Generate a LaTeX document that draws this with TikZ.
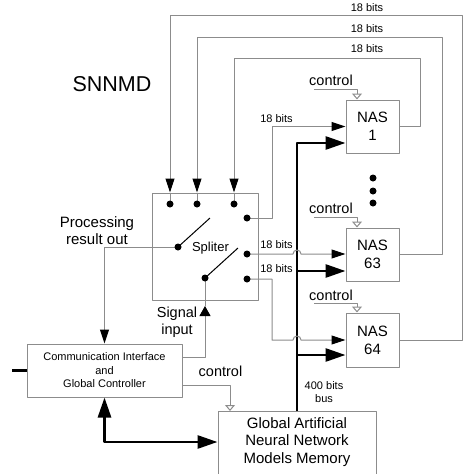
\documentclass[tikz,border=0pt]{standalone}
\usepackage{fontspec}
\setmainfont{Liberation Sans}
\usetikzlibrary{arrows.meta}
\begin{document}
\begin{tikzpicture}[x=1pt, y=-1pt, line join=round,
 box/.style={draw=black!45, line width=1pt},
 wire/.style={draw=black!45, line width=1pt},
 bus/.style={draw=black, line width=2.8pt},
 tip/.style={-{Triangle[length=14pt,width=9pt,color=black]}},
 bigtip/.style={-{Triangle[length=20pt,width=13pt]}},
 ctrl/.style={wire, -{Triangle[open,length=6pt,width=10pt]}},
 small/.style={font=\fontsize{11}{13.5}\selectfont, align=center},
 big/.style={font=\fontsize{15}{18}\selectfont, align=center},
 mid/.style={font=\fontsize{14.5}{17}\selectfont, align=center}]
 \useasboundingbox (0,0) rectangle (474,474);

 % blocks
 \node[box, minimum width=106pt, minimum height=107pt] (spl) at (205,246.5) {};
 \node[box, big, minimum width=53pt, minimum height=53pt] (nas1) at (372.5,126.5) {NAS\\1};
 \node[box, big, minimum width=53pt, minimum height=53pt] (nas63) at (372.5,254.5) {NAS\\63};
 \node[box, big, minimum width=53pt, minimum height=54pt] (nas64) at (372.5,340) {NAS\\64};
 \node[box, small, minimum width=155pt, minimum height=53pt] (comm) at (104.5,370.5) {Communication Interface\\and\\Global Controller};
 \node[box, minimum width=158pt, minimum height=80pt, anchor=north] (mem) at (297,411) {};
 \node[big, font=\fontsize{15}{17.5}\selectfont] (memtxt) at (297,442) {Global Artificial\\Neural Network\\Models Memory};
 \node[font=\fontsize{21.5}{24}\selectfont] (title) at (112,84.5) {SNNMD};

 % splitter contacts
 \coordinate (t1) at (170,204);
 \coordinate (t2) at (197,204);
 \coordinate (t3) at (234,204);
 \coordinate (r1) at (247,218);
 \coordinate (r2) at (247,254);
 \coordinate (r3) at (247,279);
 \coordinate (sw1) at (178,247);
 \coordinate (sw2) at (205,278);
 \coordinate (sw1e) at (210,218);
 \coordinate (sw2e) at (238,248);

 % feedback loops
 \draw[wire, tip] (nas1.east) -| (420,58) -| (t3 |- spl.north);
 \draw[wire, tip] (nas63.east) -| (442,37) -| (t2 |- spl.north);
 \draw[wire, tip] (nas64.east) -| (462,15) -| (t1 |- spl.north);
 \draw[wire] (t1 |- spl.north) -- (t1) (t2 |- spl.north) -- (t2) (t3 |- spl.north) -- (t3);
 \node[small] (lp1) at (367,8) {18 bits};
 \node[small] (lp2) at (367,29) {18 bits};
 \node[small] (lp3) at (367,49) {18 bits};

 % bus
 \draw[bus, bigtip] (mem.north) |- (nas1.west |- 0,143);
 \draw[bus, bigtip] (mem.north |- 0,271) -- (nas63.west |- 0,271);
 \draw[bus, bigtip] (mem.north |- 0,355) -- (nas64.west |- 0,355);
 \node[small] (buslbl) at (324,392) {400 bits\\bus};

 % splitter outputs
 \draw[wire, tip] (r1) -| (272,126.5) -- (nas1.west);
 \draw[wire, tip] (r2) -- (293,254) arc (180:360:4) -- (nas63.west |- r2);
 \draw[wire, tip] (r3) -| (272,340) -- (293,340) arc (180:360:4) -- (nas64.west);
 \node[small] (lo1) at (276.5,119) {18 bits};
 \node[small] (lo2) at (276.5,245) {18 bits};
 \node[small] (lo3) at (276.5,269) {18 bits};

 % control inputs
 \coordinate (c1) at (314,89);
 \coordinate (c63) at (314,217);
 \coordinate (c64) at (314,303);
 \draw[ctrl] (c1) -| (357,0 |- nas1.north);
 \draw[ctrl] (c63) -| (357,0 |- nas63.north);
 \draw[ctrl] (c64) -| (357,0 |- nas64.north);
 \node[mid] (k1) at (331,80) {control};
 \node[mid] (k63) at (331,208) {control};
 \node[mid] (k64) at (331,295) {control};
 \draw[ctrl] (comm.east |- 0,385) -| (230,0 |- mem.north);
 \node[mid] (kc) at (220.5,371) {control};

 % controller links
 \coordinate (sin) at (205,306);
 \coordinate (ext) at (12,370.5);
 \draw[wire, tip] (sw1) -| (comm.north);
 \draw[wire, -{Triangle[length=10pt,width=11pt,color=black]}] (comm.east |- 0,357) -| (sin);
 \draw[wire] (sin) -- (sw2);
 \draw[bus, {Triangle[length=20pt,width=13pt]}-{Triangle[length=20pt,width=13pt]}] (comm.south) |- (mem.west |- 0,442);
 \draw[bus] (ext) -- (comm.west);
 \node[mid, font=\fontsize{15}{17}\selectfont] (proc) at (97,230.5) {Processing\\result out};
 \node[mid] (sig) at (177,322) {Signal\\input};

 % switches
 \draw[line width=1pt] (sw1) -- (sw1e) (sw2) -- (sw2e);
 \node[font=\fontsize{13}{15}\selectfont] (spltxt) at (210.5,248) {Spliter};
 \fill (t1) circle (3.5) (t2) circle (3.5) (t3) circle (3.5)
 (r1) circle (3.5) (r2) circle (3.5) (r3) circle (3.5)
 (sw1) circle (3.5) (sw2) circle (3.5);
 \fill (373,178) circle (3.5) (373,191) circle (3.5) (373,203) circle (3.5);
\end{tikzpicture}
\end{document}
